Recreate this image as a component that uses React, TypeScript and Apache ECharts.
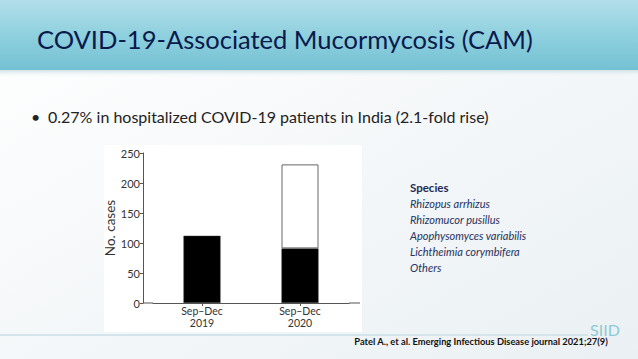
import React, { useEffect, useRef } from "react";
import * as echarts from "echarts";

const categories = ["Sep–Dec\n2019", "Sep–Dec\n2020"];
const blackValues: (number | null)[] = [112, 91];
const whiteValues: (number | null)[] = [null, 140];
const yMin = 0;
const yMax = 250;
const yInterval = 50;
const speciesTitle = "Species";
const speciesNames = [
  "Rhizopus arrhizus",
  "Rhizomucor pusillus",
  "Apophysomyces variabilis",
  "Lichtheimia corymbifera",
  "Others",
];
const titleText = "COVID-19-Associated Mucormycosis (CAM)";
const bulletText = "0.27% in hospitalized COVID-19 patients in India (2.1-fold rise)";
const citationText = "Patel A., et al. Emerging Infectious Disease journal 2021;27(9)";
const yAxisName = "No. cases";
const logoText = "SIID";

const FONT = "Lato, 'Open Sans', sans-serif";

export default function App() {
  const ref = useRef<HTMLDivElement>(null);
  useEffect(() => {
    document.body.style.margin = "0";
    const chart = echarts.init(ref.current!, undefined, { renderer: "svg" });
    const axisColor = "#555";
    const legendItems = speciesNames.map((n, i) => ({
      type: "text",
      left: 410,
      top: 198 + i * 16,
      z: 10,
      style: { text: n, fill: "#27335e", font: `italic 11px ${FONT}` },
    }));
    chart.setOption({
      animation: false,
      textStyle: { fontFamily: FONT },
      grid: { left: 153, right: 289, top: 153, bottom: 56 },
      xAxis: {
        type: "category",
        data: categories,
        axisLine: { show: true, lineStyle: { color: axisColor, width: 1 } },
        axisTick: { show: true, alignWithLabel: true, length: 3, lineStyle: { color: axisColor } },
        axisLabel: { color: "#333", fontSize: 10.5, lineHeight: 12, margin: 2, fontFamily: FONT },
        z: 5,
      },
      yAxis: {
        type: "value",
        min: yMin,
        max: yMax,
        interval: yInterval,
        offset: 10,
        name: yAxisName,
        nameLocation: "middle",
        nameGap: 24,
        nameTextStyle: { color: "#333", fontSize: 13.5, fontFamily: FONT },
        axisLine: { show: true, lineStyle: { color: axisColor, width: 1 } },
        axisTick: { show: true, length: 3, lineStyle: { color: axisColor } },
        axisLabel: { color: "#333", fontSize: 11, margin: 3, fontFamily: FONT },
        splitLine: { show: false },
      },
      series: [
        {
          type: "bar",
          stack: "s",
          data: blackValues,
          barWidth: 37,
          itemStyle: { color: "#000", borderColor: "#333", borderWidth: 0.5 },
        },
        {
          type: "bar",
          stack: "s",
          data: whiteValues,
          barWidth: 37,
          itemStyle: { color: "#fff", borderColor: "#666", borderWidth: 1 },
        },
      ],
      graphic: [
        {
          type: "rect",
          z: -10,
          shape: { x: 0, y: 0, width: 638, height: 359 },
          style: {
            fill: new echarts.graphic.LinearGradient(0, 0, 1, 1, [
              { offset: 0, color: "#ffffff" },
              { offset: 1, color: "#eaf0f3" },
            ]),
          },
        },
        {
          type: "rect",
          z: -9,
          shape: { x: 0, y: 0, width: 638, height: 70 },
          style: {
            fill: new echarts.graphic.LinearGradient(0, 0, 0, 1, [
              { offset: 0, color: "#b2dfe9" },
              { offset: 0.5, color: "#8fd0de" },
              { offset: 1, color: "#74c1d3" },
            ]),
          },
        },
        {
          type: "rect",
          z: -9,
          shape: { x: 0, y: 70, width: 638, height: 8 },
          style: {
            fill: new echarts.graphic.LinearGradient(0, 0, 0, 1, [
              { offset: 0, color: "#cfe2e6" },
              { offset: 1, color: "rgba(255,255,255,0)" },
            ]),
          },
        },
        {
          type: "rect",
          z: -8,
          shape: { x: 104, y: 145, width: 258, height: 187 },
          style: { fill: "#ffffff" },
        },
        {
          type: "line",
          z: -7,
          shape: { x1: 0, y1: 335, x2: 588, y2: 335 },
          style: { stroke: "#d3e5ea", lineWidth: 2 },
        },
        {
          type: "line",
          z: 6,
          shape: { x1: 143, y1: 303, x2: 153, y2: 303 },
          style: { stroke: axisColor, lineWidth: 1 },
        },
        {
          type: "line",
          z: 6,
          shape: { x1: 349, y1: 303, x2: 360, y2: 303 },
          style: { stroke: axisColor, lineWidth: 1 },
        },
        {
          type: "text",
          left: 37,
          top: 26,
          style: { text: titleText, fill: "#0b1a4d", font: `25.5px ${FONT}` },
        },
        {
          type: "text",
          left: 31,
          top: 108,
          style: { text: "•", fill: "#222", font: `16px ${FONT}` },
        },
        {
          type: "text",
          left: 48,
          top: 108,
          style: { text: bulletText, fill: "#222", font: `16px ${FONT}` },
        },
        {
          type: "text",
          left: 410,
          top: 181,
          z: 10,
          style: { text: speciesTitle, fill: "#1f2a55", font: `bold 11.5px ${FONT}` },
        },
        ...legendItems,
        {
          type: "text",
          right: 30,
          top: 337,
          style: { text: citationText, fill: "#111", font: `bold 9.3px ${FONT}` },
        },
        {
          type: "text",
          left: 590,
          top: 321,
          style: { text: logoText, fill: "#8ecad4", font: `16px ${FONT}` },
        },
      ],
    });
    return () => chart.dispose();
  }, []);
  return <div ref={ref} style={{ width: 638, height: 359 }} />;
}
